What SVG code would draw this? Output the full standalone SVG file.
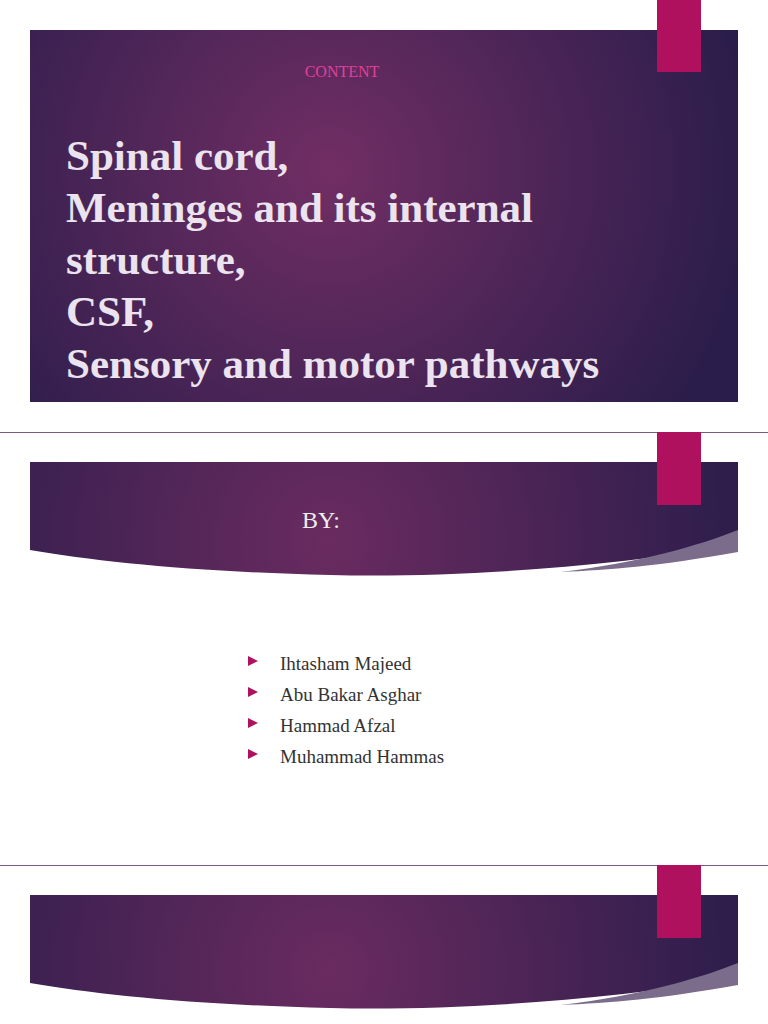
<svg xmlns="http://www.w3.org/2000/svg" width="768" height="1024" viewBox="0 0 768 1024">
<defs>
<radialGradient id="g1" cx="330" cy="170" r="420" gradientUnits="userSpaceOnUse">
<stop offset="0" stop-color="#712e64"/><stop offset="1" stop-color="#2b1d4b"/></radialGradient>
<radialGradient id="g2" cx="330" cy="540" r="420" gradientUnits="userSpaceOnUse">
<stop offset="0" stop-color="#6a2b60"/><stop offset="1" stop-color="#2b1d4b"/></radialGradient>
<radialGradient id="g3" cx="330" cy="970" r="420" gradientUnits="userSpaceOnUse">
<stop offset="0" stop-color="#6a2b60"/><stop offset="1" stop-color="#2b1d4b"/></radialGradient>
<style>
.tab{fill:#b0115f}
.div{stroke:#7a5a80;stroke-width:1}
.t{font-family:"Liberation Serif",serif}
.b{font-family:"Liberation Serif",serif;font-size:19px;fill:#333}
.tri{fill:#b0115f}
</style>
</defs>
<rect width="768" height="1024" fill="#fff"/>
<g id="slide1">
<rect x="30" y="30" width="708" height="372" fill="url(#g1)"/>
<rect class="tab" x="657" y="0" width="44" height="72"/>
<text class="t" x="342" y="77" text-anchor="middle" font-size="16" fill="#e0409a">CONTENT</text>
<g class="t" font-size="43" font-weight="bold" fill="#ebe3ee">
<text x="66" y="170">Spinal cord,</text>
<text x="66" y="222">Meninges and its internal</text>
<text x="66" y="274">structure,</text>
<text x="66" y="326">CSF,</text>
<text x="66" y="378">Sensory and motor pathways</text>
</g>
</g>
<line class="div" x1="0" y1="432.5" x2="768" y2="432.5"/>
<g id="slide2">
<path d="M30,462 H738 V545 C600,568 450,578 330,575 C200,572 100,562 30,550 Z" fill="url(#g2)"/>
<path d="M738,530 L738,552 C660,566 610,570 560,572 C640,563 700,545 738,530 Z" fill="#7c6c8c"/>
<rect class="tab" x="657" y="432" width="44" height="73"/>
<text class="t" x="302" y="528" font-size="24" fill="#eee">BY:</text>
<path class="tri" d="M248,656 L258,661 L248,666 Z"/>
<path class="tri" d="M248,687 L258,692 L248,697 Z"/>
<path class="tri" d="M248,718 L258,723 L248,728 Z"/>
<path class="tri" d="M248,749 L258,754 L248,759 Z"/>
<text class="b" x="280" y="670">Ihtasham Majeed</text>
<text class="b" x="280" y="701">Abu Bakar Asghar</text>
<text class="b" x="280" y="732">Hammad Afzal</text>
<text class="b" x="280" y="763">Muhammad Hammas</text>
</g>
<line class="div" x1="0" y1="865.5" x2="768" y2="865.5"/>
<g id="slide3">
<path d="M30,895 H738 V978 C600,1001 450,1011 330,1008 C200,1005 100,995 30,983 Z" fill="url(#g3)"/>
<path d="M738,963 L738,985 C660,999 610,1003 560,1005 C640,996 700,978 738,963 Z" fill="#7c6c8c"/>
<rect class="tab" x="657" y="865" width="44" height="73"/>
</g>
</svg>
